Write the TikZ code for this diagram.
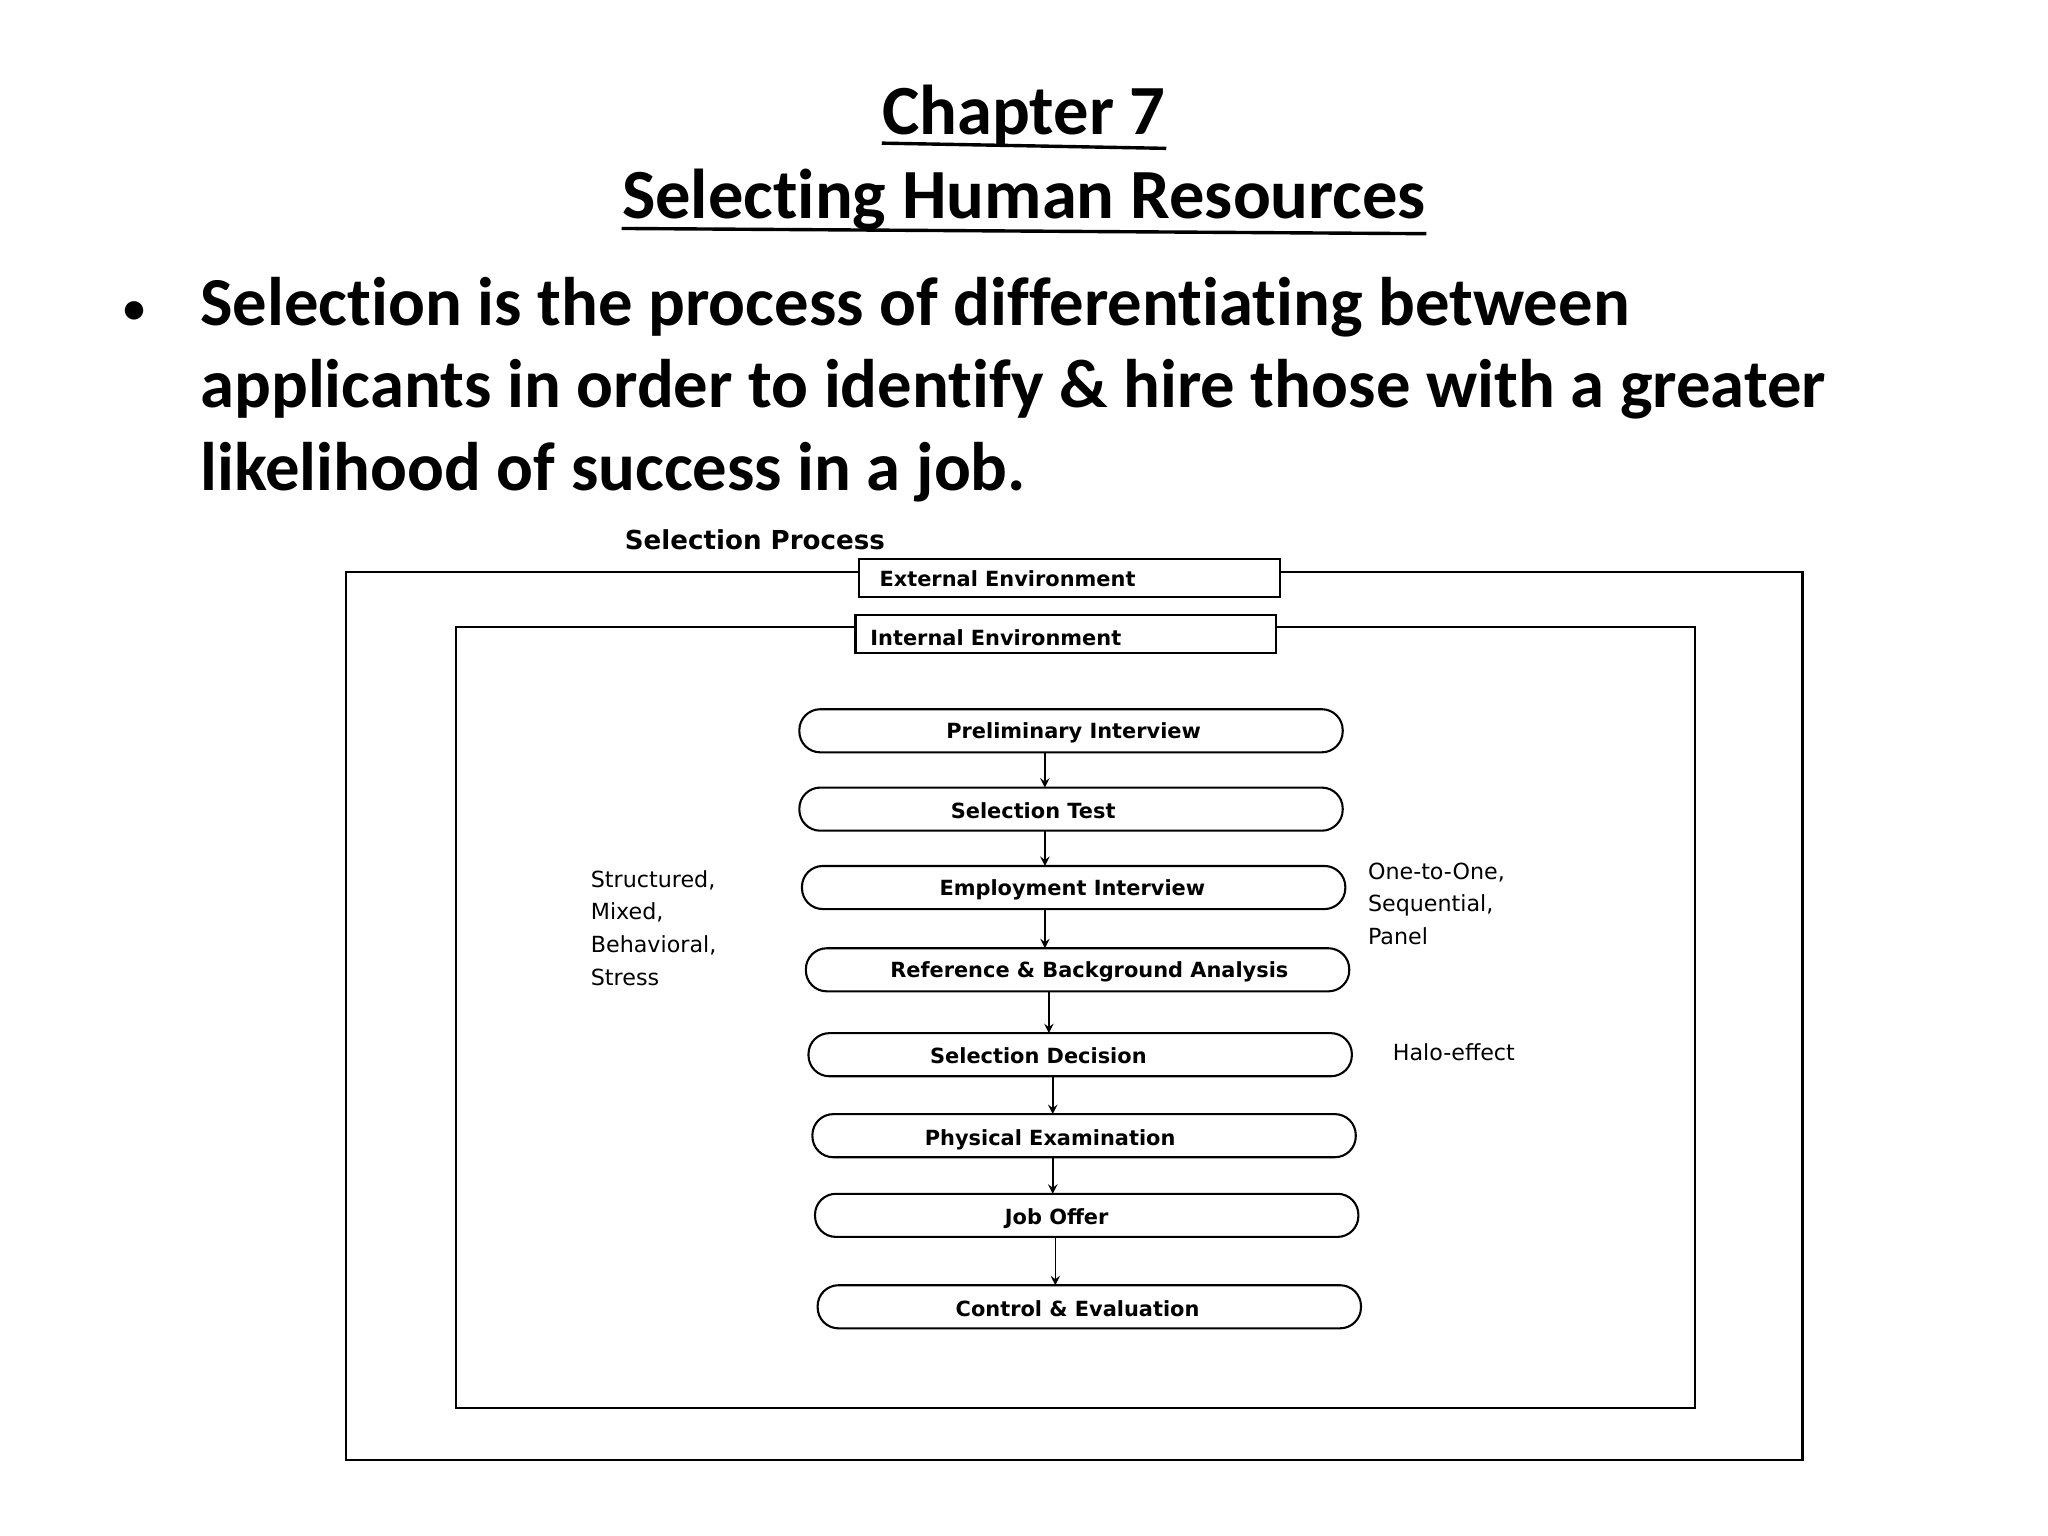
\documentclass[tikz,border=0pt]{standalone}
\usepackage{fontspec}
\setmainfont{Carlito}[Ligatures={NoCommon,NoRare}]
\newfontfamily\dfont{DejaVu Sans}
\begin{document}
\begin{tikzpicture}[x=0.5pt,y=-0.5pt,
  pill/.style={draw,line width=0.8pt,rounded corners=8pt,minimum width=208pt,minimum height=16.5pt,inner sep=0pt},
  envbox/.style={draw,line width=0.8pt,minimum width=161pt,minimum height=14.5pt,inner sep=0pt,fill=white},
  lab/.style={font=\dfont\bfseries\fontsize{8}{9}\selectfont,inner sep=0pt},
  side/.style={font=\dfont\fontsize{8.5}{12.5}\selectfont,align=left,anchor=north west,inner sep=0pt},
  ttl/.style={font=\bfseries\fontsize{27}{32}\selectfont,inner sep=0pt},
  arr/.style={->,>=stealth,line width=0.6pt}]
\useasboundingbox (0,0) rectangle (1568,1176);
\node[ttl] (t1) at (784,88) {Chapter 7\ };
\draw[line width=1.3pt] (t1.south west)++(0,-2) -- ([yshift=-1pt]t1.south east);
\node[ttl] (t2) at (784,153) {Selecting Human Resources};
\draw[line width=1.3pt] (t2.south west)++(0,-2) -- ([yshift=-1pt]t2.south east);
\node[font=\fontsize{20}{24}\selectfont] (bul) at (103,240) {•};
\node[font=\bfseries\fontsize{26.3}{31.5}\selectfont,align=left,anchor=north west,inner sep=0pt] (body) at (153,212)
 {Selection is the process of differentiating between\\applicants in order to identify \& hire those with a greater\\likelihood of success in a job.};
\node[font=\dfont\bfseries\fontsize{10}{12}\selectfont] (sp) at (578,413) {Selection Process};
\draw[line width=0.8pt] (265,438) rectangle (1380,1118);
\draw[line width=0.8pt] (349,480) rectangle (1298,1078);
\node[envbox] (ext) at (819,442.5) {};
\node[lab,anchor=west] (extl) at (673,443) {External Environment};
\node[envbox] (int) at (816,485.5) {};
\node[lab,anchor=west] (intl) at (666,488) {Internal Environment};
\node[pill] (b1) at (820,559.5) {};
\node[pill] (b2) at (820,619.5) {};
\node[pill] (b3) at (822,679.5) {};
\node[pill] (b4) at (825,742.5) {};
\node[pill] (b5) at (827,807.5) {};
\node[pill] (b6) at (830,869.5) {};
\node[pill] (b7) at (832,930.5) {};
\node[pill] (b8) at (834,1000.5) {};
\node[lab] (l1) at (822,561) {Preliminary Interview};
\node[lab] (l2) at (791,621) {Selection Test};
\node[lab] (l3) at (821,681) {Employment Interview};
\node[lab] (l4) at (834,744) {Reference \& Background Analysis};
\node[lab] (l5) at (795,808) {Selection Decision};
\node[lab] (l6) at (804,873) {Physical Examination};
\node[lab] (l7) at (809,933) {Job Offer};
\node[lab] (l8) at (825,1002) {Control \& Evaluation};
\draw[arr] (800,576) -- (800,603);
\draw[arr] (800,636) -- (800,663);
\draw[arr] (800,696) -- (800,726);
\draw[arr] (803,759) -- (803,791);
\draw[arr] (806,824) -- (806,853);
\draw[arr] (806,886) -- (806,914);
\draw[arr] (808,947) -- (808,984);
\node[side] (l) at (452,666) {Structured,\\Mixed,\\Behavioral,\\Stress};
\node[side] (r) at (1047,660) {One-to-One,\\Sequential,\\Panel};
\node[side] (h) at (1066,799) {Halo-effect};
\end{tikzpicture}
\end{document}
